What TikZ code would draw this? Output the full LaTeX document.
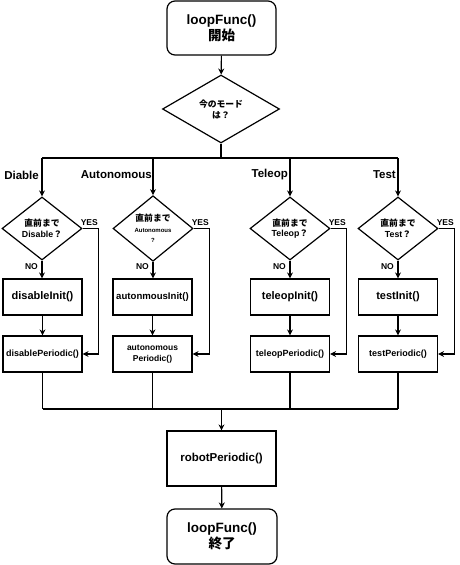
\documentclass[tikz,border=0pt]{standalone}
\usepackage{fontspec}
\setmainfont{Liberation Sans}
\newfontfamily\cjk{Noto Sans CJK JP}
\usetikzlibrary{shapes.geometric,arrows.meta}
\tikzset{
  base/.style={draw=black, line width=1.2pt, inner sep=0pt, align=center, font=\bfseries},
  termbox/.style={base, rounded corners=8pt, minimum width=109pt, minimum height=54pt},
  procbox/.style={base, minimum width=79pt, minimum height=36pt},
  bigbox/.style={base, minimum width=109pt, minimum height=55pt},
  decide/.style={base, shape=diamond, minimum width=80pt, minimum height=63pt},
  conn/.style={line width=1.1pt},
  arr/.style={conn, -{Stealth[length=6pt,width=6pt]}},
  lab/.style={inner sep=0pt, font=\bfseries\fontsize{11.5}{13}\selectfont},
  yn/.style={inner sep=0pt, font=\bfseries\fontsize{8.5}{10}\selectfont}
}
\begin{document}
\begin{tikzpicture}[x=1pt,y=-1pt]
\useasboundingbox (0,0) rectangle (459,565);
% start
\node[termbox, font=\bfseries\fontsize{13.5}{16}\selectfont] (start) at (221.5,28) {loopFunc()\\{\cjk\bfseries 開始}};
\node[base, shape=diamond, minimum width=117pt, minimum height=68pt, font=\bfseries\fontsize{8.8}{11}\selectfont] (mode) at (221,109) {{\cjk 今のモード}\\{\cjk は？}};
\draw[arr] (start) -- (mode);
% bus
\coordinate (bc) at (221,158);
\coordinate (b1) at (42,158);
\coordinate (b2) at (153,158);
\coordinate (b3) at (290,158);
\coordinate (b4) at (398,158);
\draw[conn] (mode.south) -- (bc);
\draw[conn] (b1) -- (b4);
% labels
\node[lab, anchor=east] (l1) at (39,175) {Diable};
\node[lab, anchor=east] (l2) at (152,175) {Autonomous};
\node[lab, anchor=east] (l3) at (288,175) {Teleop};
\node[lab, anchor=east] (l4) at (396,175) {Test};
% diamonds
\node[decide, font=\bfseries\fontsize{8.8}{10.5}\selectfont] (d1) at (42,228.5) {{\cjk 直前まで}\\Disable{\cjk ？}};
\node[decide, font=\bfseries\fontsize{8.8}{10.5}\selectfont] (d2) at (153,228.5) {{\cjk 直前まで}\\{\fontsize{6}{7}\selectfont Autonomous}\\{\fontsize{6}{7}\selectfont ?}};
\node[decide, font=\bfseries\fontsize{8.8}{10.5}\selectfont] (d3) at (290,228.5) {{\cjk 直前まで}\\Teleop{\cjk ？}};
\node[decide, font=\bfseries\fontsize{8.8}{10.5}\selectfont] (d4) at (398,228.5) {{\cjk 直前まで}\\Test{\cjk ？}};
\foreach \i in {1,2,3,4} {\draw[arr] (b\i) -- (d\i.north);}
% init boxes
\node[procbox, font=\bfseries\fontsize{11}{13}\selectfont] (i1) at (42.5,297) {disableInit()};
\node[procbox, font=\bfseries\fontsize{9.6}{12}\selectfont] (i2) at (152.5,297) {autonmousInit()};
\node[procbox, font=\bfseries\fontsize{11}{13}\selectfont] (i3) at (290,297) {teleopInit()};
\node[procbox, font=\bfseries\fontsize{11}{13}\selectfont] (i4) at (398,297) {testInit()};
% periodic boxes
\node[procbox, font=\bfseries\fontsize{9}{11}\selectfont] (p1) at (42.5,354) {disablePeriodic()};
\node[procbox, font=\bfseries\fontsize{8.5}{11}\selectfont] (p2) at (152.5,354) {autonomous\\Periodic()};
\node[procbox, font=\bfseries\fontsize{9}{11}\selectfont] (p3) at (290,354) {teleopPeriodic()};
\node[procbox, font=\bfseries\fontsize{9}{11}\selectfont] (p4) at (398,354) {testPeriodic()};
% NO / YES
\foreach \i in {1,2,3,4} {
  \draw[arr] (d\i.south) -- (d\i.south |- i\i.north);
  \draw[arr] (i\i.south) -- (i\i.south |- p\i.north);
  \node[yn, anchor=east] (no\i) at ([xshift=-4pt]d\i.south |- 0,267) {NO};
  \node[yn, anchor=south west] (yes\i) at ([xshift=-2pt,yshift=2.5pt]d\i.east) {YES};
  \draw[arr] (d\i.east) -- ++(16,0) |- (p\i.east);
}
% merge
\coordinate (m1) at (42.5,409);
\coordinate (m4) at (398,409);
\coordinate (mc) at (221.5,409);
\foreach \i in {1,2,3,4} {\draw[conn] (p\i.south) -- (p\i.south |- m1);}
\draw[conn] (m1) -- (m4);
\node[bigbox, font=\bfseries\fontsize{11.5}{14}\selectfont] (robot) at (221.5,458.5) {robotPeriodic()};
\draw[arr] (mc) -- (robot.north);
\node[termbox, minimum width=110pt, minimum height=55pt, font=\bfseries\fontsize{13.5}{16}\selectfont] (end) at (222,536.5) {loopFunc()\\{\cjk\bfseries 終了}};
\draw[arr] (robot) -- (end);
\end{tikzpicture}
\end{document}
